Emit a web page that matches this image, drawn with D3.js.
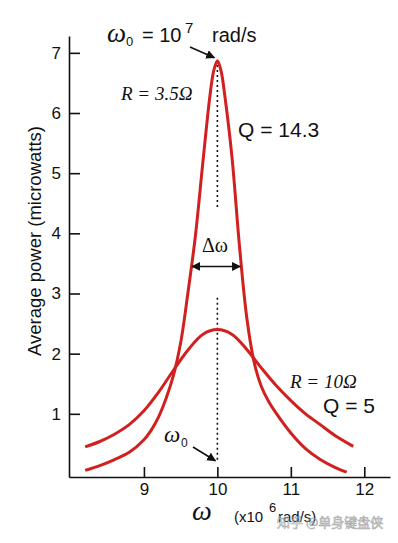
<!DOCTYPE html>
<head>
  <meta charset="utf-8">
  <script src="https://d3js.org/d3.v7.min.js"></script>
  <style>
    body { margin: 0; background: #fff; }
    .axis path, .axis line { stroke: #111; stroke-width: 1.6; }
    .axis text { font: 17px "Liberation Sans", Arial, sans-serif; fill: #111; }
    .sans { font-family: "Liberation Sans", Arial, sans-serif; fill: #111; }
    .serif { font-family: "Liberation Serif", "Times New Roman", serif; fill: #111; }
  </style>
</head>
<body>
<script>
  // courbe R = 3.5 ohm (Q = 14.3)
  var hiW = [8.2, 8.4, 8.6, 8.8, 9.0, 9.1, 9.2, 9.3, 9.4, 9.5, 9.6, 9.7, 9.8, 9.9, 9.95, 10.0,
             10.05, 10.1, 10.2, 10.3, 10.4, 10.5, 10.6, 10.7, 10.8, 11.0, 11.2, 11.4, 11.6, 11.76];
  var hiP = [0.06, 0.14, 0.24, 0.36, 0.57, 0.73, 0.95, 1.25, 1.63, 2.18, 3.02, 3.95, 5.15, 6.30, 6.70, 6.87,
             6.70, 6.30, 5.25, 3.80, 2.60, 1.86, 1.45, 1.20, 1.01, 0.68, 0.42, 0.24, 0.11, 0.03];
  // courbe R = 10 ohm (Q = 5)
  var loW = [8.2, 8.4, 8.6, 8.8, 9.0, 9.2, 9.4, 9.6, 9.8, 10.0, 10.2, 10.4, 10.6, 10.8, 11.0, 11.2, 11.4, 11.6, 11.85];
  var loP = [0.45, 0.54, 0.66, 0.82, 1.05, 1.36, 1.72, 2.06, 2.32, 2.40, 2.32, 2.07, 1.76, 1.47, 1.22, 1.00, 0.82, 0.64, 0.46];

  var xTicks = [9, 10, 11, 12];
  var yTicks = [1, 2, 3, 4, 5, 6, 7];

  var w = 398, h = 543;
  var red = "#d0201f";

  var svg = d3.select("body").append("svg")
    .attr("width", w)
    .attr("height", h);

  var x = d3.scaleLinear().domain([7.98, 12.35]).range([69, 390]);
  var y = d3.scaleLinear().domain([-0.05, 7.28]).range([477, 36]);

  var defs = svg.append("defs");
  defs.append("marker")
    .attr("id", "head")
    .attr("viewBox", "0 0 10 10")
    .attr("refX", 9).attr("refY", 5)
    .attr("markerWidth", 9).attr("markerHeight", 9)
    .attr("markerUnits", "userSpaceOnUse")
    .attr("orient", "auto-start-reverse")
    .append("path")
    .attr("d", "M0,0 L10,5 L0,10 z")
    .attr("fill", "#111");

  // axes
  svg.append("g")
    .attr("class", "axis")
    .attr("transform", "translate(" + x.range()[0] + ",0)")
    .call(d3.axisLeft(y).tickValues(yTicks).tickSizeInner(-11).tickSizeOuter(0).tickPadding(8).tickFormat(d3.format("d")));

  svg.append("g")
    .attr("class", "axis")
    .attr("transform", "translate(0," + y.range()[0] + ")")
    .call(d3.axisBottom(x).tickValues(xTicks).tickSizeInner(-10).tickSizeOuter(0).tickPadding(6).tickFormat(d3.format("d")));

  // ligne pointillée à omega0
  [[6.8, 4.43], [2.93, 0.23]].forEach(function(s) {
    svg.append("line")
      .attr("x1", x(10)).attr("x2", x(10))
      .attr("y1", y(s[0])).attr("y2", y(s[1]))
      .attr("stroke", "#111")
      .attr("stroke-width", 1.6)
      .attr("stroke-dasharray", "2,3");
  });

  var line = d3.line()
    .x(function(d) { return x(d[0]); })
    .y(function(d) { return y(d[1]); })
    .curve(d3.curveCatmullRom.alpha(0.5));

  svg.append("path")
    .datum(d3.zip(loW, loP))
    .attr("d", line)
    .attr("fill", "none")
    .attr("stroke", red)
    .attr("stroke-width", 3);

  svg.append("path")
    .datum(d3.zip(hiW, hiP))
    .attr("d", line)
    .attr("fill", "none")
    .attr("stroke", red)
    .attr("stroke-width", 3);

  // flèches
  function arrow(x1, y1, x2, y2, both) {
    var l = svg.append("line")
      .attr("x1", x1).attr("y1", y1).attr("x2", x2).attr("y2", y2)
      .attr("stroke", "#111").attr("stroke-width", 1.6)
      .attr("marker-end", "url(#head)");
    if (both) l.attr("marker-start", "url(#head)");
  }
  arrow(190, 47, x(10) - 3, y(6.87) - 3);
  arrow(193, 447, x(10) - 2, y(0.22));
  arrow(x(9.655), y(3.45), x(10.31), y(3.45), true);

  // textes
  function txt(cls, size, px, py, s, italic) {
    return svg.append("text")
      .attr("class", cls)
      .attr("x", px).attr("y", py)
      .style("font-size", size + "px")
      .style("font-style", italic ? "italic" : "normal")
      .text(s);
  }
  txt("serif", 27, 107, 42, "\u03c9", true);
  txt("sans", 13, 126, 46, "0");
  txt("sans", 20, 142, 42, "= 10");
  txt("sans", 15, 185, 33, "7");
  txt("sans", 20, 212, 42, "rad/s");

  txt("serif", 19, 121, 100, "R = 3.5\u03a9", true);
  txt("sans", 21, 238, 137, "Q = 14.3");
  txt("serif", 20, 202, 252, "\u0394\u03c9");
  txt("serif", 19, 290, 388, "R = 10\u03a9", true);
  txt("sans", 21, 323, 413, "Q = 5");

  txt("serif", 23, 164, 442, "\u03c9", true);
  txt("sans", 12, 181, 447, "0");

  txt("serif", 28, 192, 520, "\u03c9", true);
  txt("sans", 15, 234, 522, "(x10");
  txt("sans", 13, 269, 512, "6");
  txt("sans", 15, 278, 522, "rad/s)");

  svg.append("text")
    .attr("class", "sans")
    .attr("transform", "translate(41,241) rotate(-90)")
    .attr("text-anchor", "middle")
    .style("font-size", "18.5px")
    .text("Average power (microwatts)");

  // filigrane
  svg.append("text")
    .attr("x", 277).attr("y", 527)
    .style("font", "13px 'Noto Sans CJK SC', sans-serif")
    .attr("fill", "#fff")
    .attr("stroke", "#888")
    .attr("stroke-width", 0.6)
    .attr("opacity", 0.75)
    .text("知乎 @单身键盘侠");
</script>
</body>
